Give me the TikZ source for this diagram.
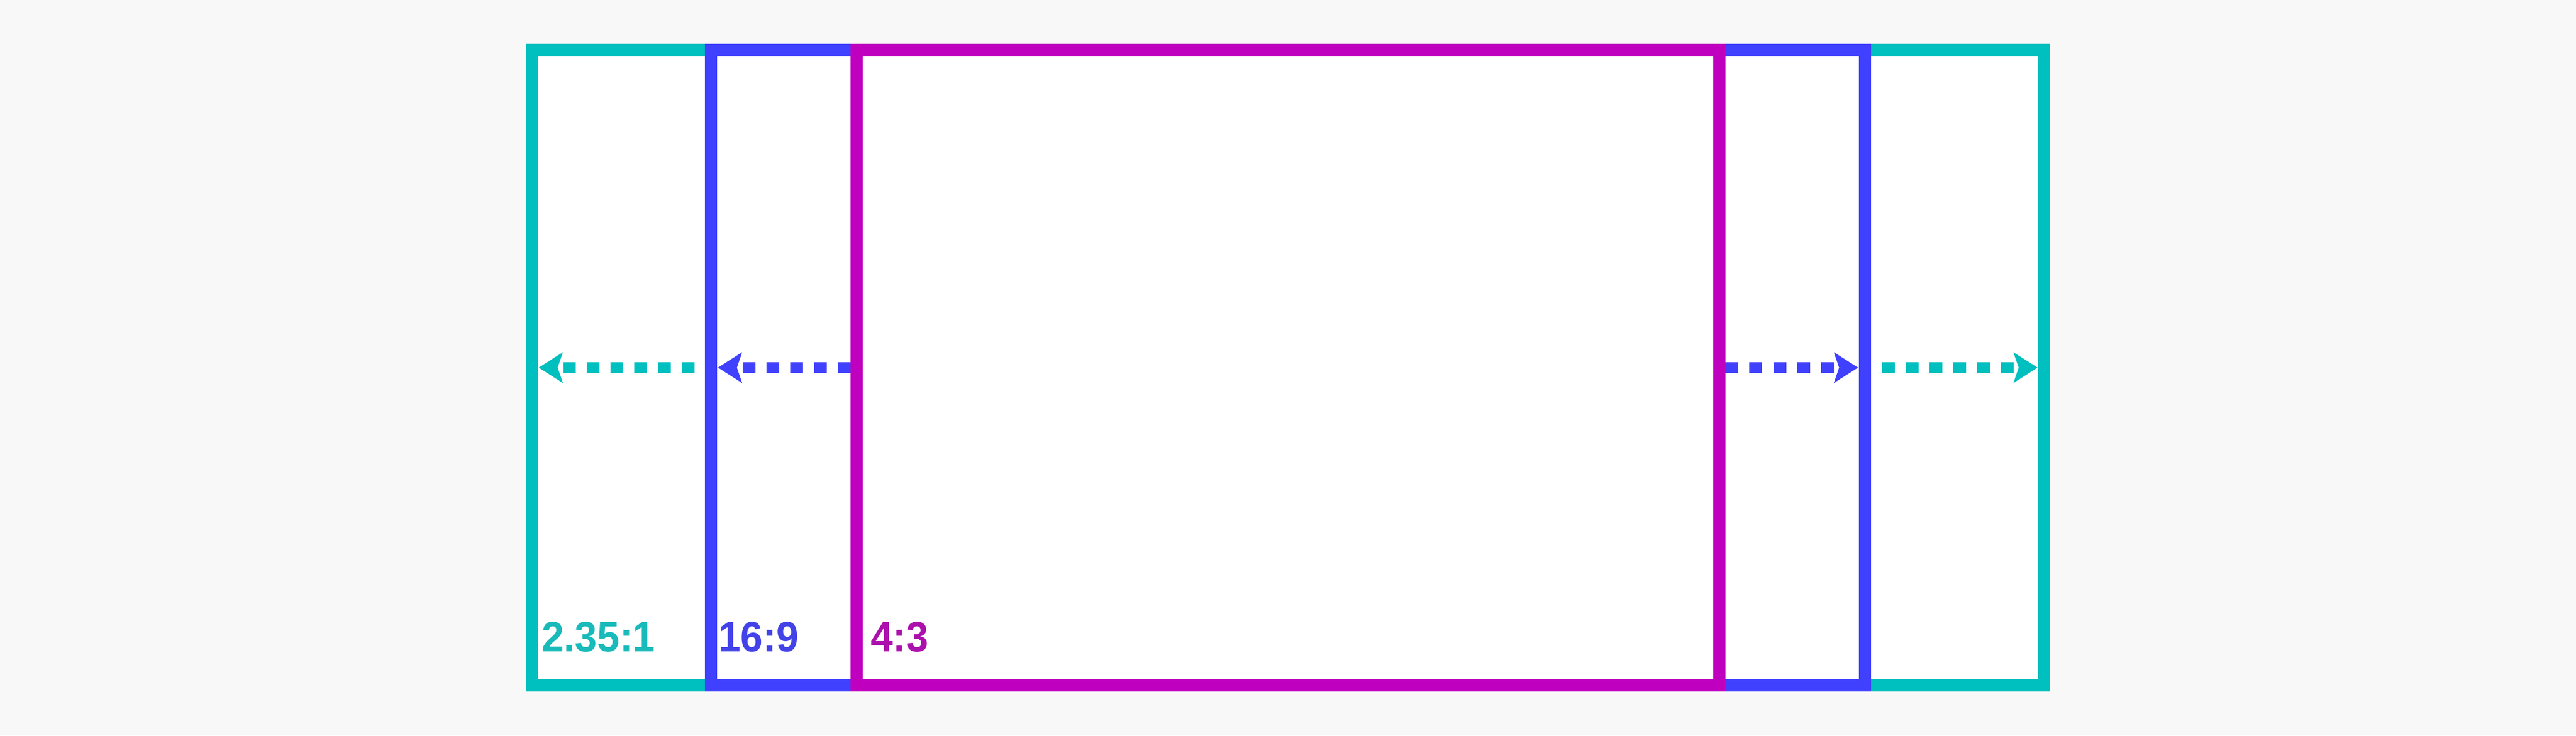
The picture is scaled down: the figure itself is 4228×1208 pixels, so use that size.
\documentclass[tikz,border=0pt]{standalone}
\usepackage{fontspec}
\setmainfont{Liberation Sans}
\usetikzlibrary{arrows.meta}
\definecolor{cteal}{RGB}{0,191,191}
\definecolor{cblue}{RGB}{64,64,255}
\definecolor{cmag}{RGB}{191,0,191}
\definecolor{tteal}{RGB}{24,186,186}
\definecolor{tblue}{RGB}{66,66,232}
\definecolor{tmag}{RGB}{172,16,172}
\definecolor{bg}{RGB}{248,248,248}
\tikzset{
  frame/.style={rectangle, draw, fill=white, line width=0.2cm, inner sep=0pt, outer sep=0pt, miter limit=10, minimum height=10.437cm},
  growarrow/.style={line width=0.18cm, dash pattern=on 0.21cm off 0.18cm, -{Stealth[length=0.39cm, width=0.49cm, inset=0.08cm]}},
  ratiolabel/.style={anchor=base west, inner sep=0pt, outer sep=0pt, font=\bfseries\fontsize{19.9pt}{24pt}\selectfont}
}
\begin{document}
\begin{tikzpicture}[x=0.01cm, y=-0.01cm]
\fill[bg] (0,0) rectangle (4228,1208);
\useasboundingbox (0,0) rectangle (4228,1208);
\node[frame, draw=cteal, minimum width=24.80cm] (f235) at (2114,603.85) {};
\node[frame, draw=cblue, minimum width=18.92cm] (f169) at (2114,603.85) {};
\node[frame, draw=cmag, minimum width=14.16cm] (f43) at (2114,603.85) {};
% arrows
\draw[growarrow, cblue] ([xshift=-0.1cm]f43.west) -- ([xshift=0.11cm]f169.west);
\draw[growarrow, cteal] ([xshift=-0.27cm]f169.west) -- ([xshift=0.11cm]f235.west);
\draw[growarrow, cblue] ([xshift=0.1cm]f43.east) -- ([xshift=-0.11cm]f169.east);
\draw[growarrow, cteal] ([xshift=0.28cm]f169.east) -- ([xshift=-0.105cm]f235.east);
% labels
\node[ratiolabel, text=tteal] (l235) at (889,1070) {\scalebox{0.94}[1]{2.35:1}};
\node[ratiolabel, text=tblue] (l169) at (1179,1070) {\scalebox{0.94}[1]{16:9}};
\node[ratiolabel, text=tmag] (l43) at (1429,1070) {\scalebox{0.94}[1]{4:3}};
\end{tikzpicture}
\end{document}
